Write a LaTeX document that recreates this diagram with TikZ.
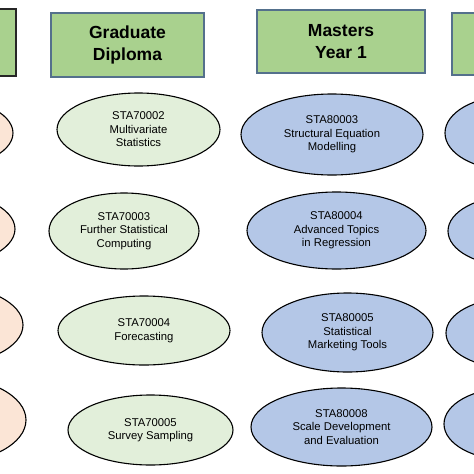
\documentclass[tikz,border=0pt]{standalone}
\usepackage{fontspec}
\setmainfont{Liberation Sans}
\usetikzlibrary{shapes.geometric}
\definecolor{hdrgreen}{RGB}{169,209,142}
\definecolor{hdrline}{RGB}{84,112,140}
\definecolor{gdfill}{RGB}{226,239,218}
\definecolor{msfill}{RGB}{180,199,231}
\definecolor{pkfill}{RGB}{251,229,214}
\tikzset{
  hdr/.style={draw=hdrline, line width=1.3pt, fill=hdrgreen, inner sep=0pt,
    font=\fontsize{17.5}{21.5}\selectfont\bfseries, align=center},
  course/.style={ellipse, draw=black, line width=1.1pt, inner sep=0pt,
    font=\fontsize{11.3}{13.5}\selectfont, align=center},
  gd/.style={course, fill=gdfill},
  ms/.style={course, fill=msfill},
  pk/.style={course, fill=pkfill},
}
\begin{document}
\begin{tikzpicture}[x=1pt,y=-1pt]
\useasboundingbox (0,0) rectangle (474,474);
\clip (0,0) rectangle (474,474);
\fill[white] (0,0) rectangle (474,474);
% headers
\node[hdr, draw=black!85, minimum width=100pt, minimum height=67pt] (h0) at (-34,42.5) {};
\node[hdr, minimum width=153pt, minimum height=64pt] (h1) at (127.5,45) {Graduate\\Diploma};
\node[hdr, minimum width=168pt, minimum height=63pt] (h2) at (341,41.5) {Masters\\Year 1};
\node[hdr, minimum width=100pt, minimum height=62pt] (h3) at (502,44) {};
% left partial column
\node[pk, minimum width=160pt, minimum height=74pt] (p1) at (-67,133) {};
\node[pk, minimum width=160pt, minimum height=76pt] (p2) at (-65,229) {};
\node[pk, minimum width=160pt, minimum height=80pt] (p3) at (-57,325) {};
\node[pk, minimum width=160pt, minimum height=86pt] (p4) at (-54,420) {};
% graduate diploma column
\node[gd, minimum width=163pt, minimum height=73pt] (g1) at (138.5,129.5) {STA70002\\Multivariate\\Statistics};
\node[gd, minimum width=150pt, minimum height=76pt] (g2) at (124,231) {STA70003\\Further Statistical\\Computing};
\node[gd, minimum width=172pt, minimum height=69pt] (g3) at (144,330.5) {STA70004\\Forecasting};
\node[gd, minimum width=165pt, minimum height=70pt] (g4) at (150.5,430) {STA70005\\Survey Sampling};
% masters year 1 column
\node[ms, minimum width=182pt, minimum height=81pt] (m1) at (332,134.5) {STA80003\\Structural Equation\\Modelling};
\node[ms, minimum width=179pt, minimum height=77pt] (m2) at (336.5,230.5) {STA80004\\Advanced Topics\\in Regression};
\node[ms, minimum width=171pt, minimum height=79pt] (m3) at (347.5,332.5) {STA80005\\Statistical\\Marketing Tools};
\node[ms, minimum width=181pt, minimum height=78pt] (m4) at (341.5,427) {STA80008\\Scale Development\\and Evaluation};
% right partial column
\node[ms, minimum width=130pt, minimum height=74pt] (r1) at (510,133) {};
\node[ms, minimum width=130pt, minimum height=70pt] (r2) at (513,231) {};
\node[ms, minimum width=130pt, minimum height=70pt] (r3) at (511,333) {};
\node[ms, minimum width=130pt, minimum height=72pt] (r4) at (509,424) {};
\end{tikzpicture}
\end{document}
